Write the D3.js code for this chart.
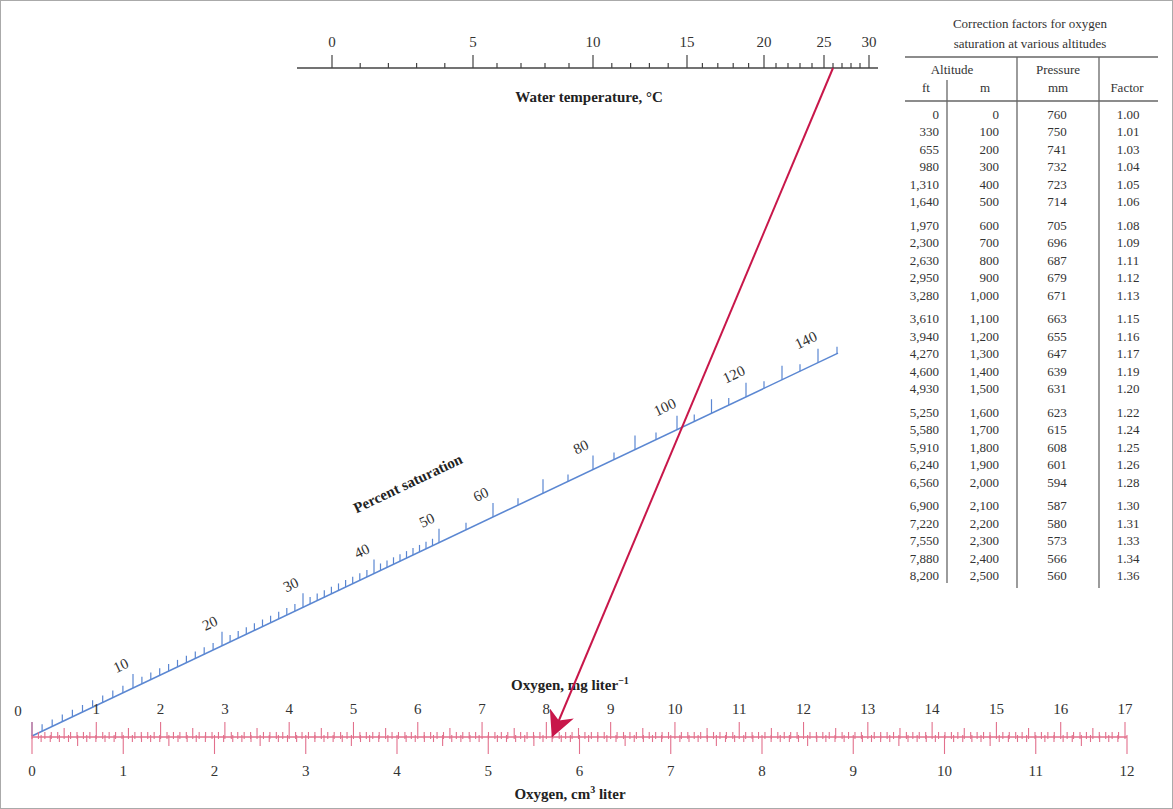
<!DOCTYPE html>
<html>
<head>
<meta charset="utf-8">
<script src="https://cdn.jsdelivr.net/npm/d3@7"></script>
<style>
  body { margin: 0; background: #fff; }
  text { font-family: "Liberation Serif", "DejaVu Serif", serif; fill: #333; }
</style>
</head>
<body>
<div id="chart"></div>
<script>
// temperature scale (non-linear), label values
var tempLabels = [0, 5, 10, 15, 20, 25, 30];
// percent saturation scale, label values
var satLabels = [0, 10, 20, 30, 40, 50, 60, 80, 100, 120, 140];
var mgLabels = d3.range(0, 18);
var cmLabels = d3.range(0, 13);
// example reading: temperature -> saturation -> oxygen
var example = { temp: 26, mg: 8.1 };

// table
var tableFt = ["0","330","655","980","1,310","1,640","1,970","2,300","2,630","2,950","3,280","3,610","3,940","4,270","4,600","4,930","5,250","5,580","5,910","6,240","6,560","6,900","7,220","7,550","7,880","8,200"];
var tableM = ["0","100","200","300","400","500","600","700","800","900","1,000","1,100","1,200","1,300","1,400","1,500","1,600","1,700","1,800","1,900","2,000","2,100","2,200","2,300","2,400","2,500"];
var tableMm = [760,750,741,732,723,714,705,696,687,679,671,663,655,647,639,631,623,615,608,601,594,587,580,573,566,560];
var tableFactor = ["1.00","1.01","1.03","1.04","1.05","1.06","1.08","1.09","1.11","1.12","1.13","1.15","1.16","1.17","1.19","1.20","1.22","1.24","1.25","1.26","1.28","1.30","1.31","1.33","1.34","1.36"];

var width = 1173, height = 809;
var svg = d3.select("#chart").append("svg")
  .attr("width", width).attr("height", height);

svg.append("rect").attr("x", 0.5).attr("y", 0.5)
  .attr("width", width - 1).attr("height", height - 1)
  .attr("fill", "none").attr("stroke", "#aaa");

var grey = "#444", blue = "#5b87d2", pink = "#e2708c", red = "#c8174a";

// ---- temperature axis ----
var tY = 68;
var tx = d3.scaleLinear().domain(tempLabels)
  .range([332, 473, 593, 687, 764, 824, 869]);
var gT = svg.append("g");
gT.append("line").attr("x1", 297).attr("x2", 878).attr("y1", tY).attr("y2", tY)
  .attr("stroke", grey).attr("stroke-width", 1.3);
gT.selectAll(".tt").data(d3.range(0, 31)).enter().append("line")
  .attr("x1", tx).attr("x2", tx).attr("y1", tY)
  .attr("y2", function(d) { return d % 5 === 0 ? tY - 13 : tY - 5; })
  .attr("stroke", grey).attr("stroke-width", 1.2);
gT.selectAll(".tl").data(tempLabels).enter().append("text")
  .attr("x", tx).attr("y", 47).attr("text-anchor", "middle")
  .style("font-size", "15px").text(function(d) { return d; });
gT.append("text").attr("x", 589).attr("y", 102).attr("text-anchor", "middle")
  .style("font-size", "15px").style("font-weight", "bold").style("fill", "#222")
  .text("Water temperature, °C");

// ---- percent saturation axis ----
var x0 = 32, y0 = 736, slope = -0.475;
var sx = d3.scaleLinear().domain([0, 10, 20, 30, 40, 50, 60, 80, 100, 120, 140, 145])
  .range([32, 133, 222, 303, 374, 439, 493, 593, 677, 746, 818, 837]);
function sy(v) { return y0 + slope * (sx(v) - x0); }
var ang = Math.atan(slope) * 180 / Math.PI;
var gS = svg.append("g");
gS.append("line").attr("x1", sx(0)).attr("y1", sy(0)).attr("x2", 838).attr("y2", y0 + slope * (838 - x0))
  .attr("stroke", blue).attr("stroke-width", 1.5);
var satTicks = d3.range(0, 50).concat(d3.range(50, 146, 5));
gS.selectAll(".st").data(satTicks).enter().append("line")
  .attr("x1", sx).attr("x2", sx)
  .attr("y1", sy)
  .attr("y2", function(d) { return sy(d) - (d % 10 === 0 ? 14 : 7); })
  .attr("stroke", blue).attr("stroke-width", 1.2);
gS.selectAll(".sl").data(satLabels).enter().append("text")
  .attr("transform", function(d) {
    if (d === 0) return "translate(18,716)";
    return "translate(" + (sx(d) - 10) + "," + (sy(d) - 18) + ") rotate(" + ang + ")";
  })
  .attr("text-anchor", "middle").style("font-size", "15px")
  .text(function(d) { return d; });
gS.append("text").attr("transform", "translate(410,488) rotate(" + ang + ")")
  .attr("text-anchor", "middle").style("font-size", "15px").style("font-weight", "bold")
  .style("fill", "#222").text("Percent saturation");

// ---- oxygen axis ----
var oY = 737;
var mx = d3.scaleLinear().domain([0, 17]).range([32, 1125]);
var cx = d3.scaleLinear().domain([0, 12]).range([32, 1127]);
var gO = svg.append("g");
gO.append("line").attr("x1", 32).attr("x2", 1127).attr("y1", oY).attr("y2", oY)
  .attr("stroke", pink).attr("stroke-width", 1.5);
var mgTicks = d3.range(0, 170).map(function(i) { return i / 10; }).concat([17]);
gO.selectAll(".mt").data(mgTicks).enter().append("line")
  .attr("x1", mx).attr("x2", mx).attr("y1", oY + 2)
  .attr("y2", function(d, i) { var k = Math.round(d * 10); return k % 10 === 0 ? oY - 15 : (k % 5 === 0 ? oY - 9 : oY - 5); })
  .attr("stroke", pink).attr("stroke-width", 1.1);
var cmTicks = d3.range(0, 120).map(function(i) { return i / 10; }).concat([12]);
gO.selectAll(".ct").data(cmTicks).enter().append("line")
  .attr("x1", cx).attr("x2", cx).attr("y1", oY - 2)
  .attr("y2", function(d) { var k = Math.round(d * 10); return k % 10 === 0 ? oY + 17 : (k % 5 === 0 ? oY + 9 : oY + 5); })
  .attr("stroke", pink).attr("stroke-width", 1.1);
gO.selectAll(".ml").data(mgLabels.slice(1)).enter().append("text")
  .attr("x", mx).attr("y", 714).attr("text-anchor", "middle")
  .style("font-size", "15px").text(function(d) { return d; });
gO.selectAll(".cl").data(cmLabels).enter().append("text")
  .attr("x", cx).attr("y", 776).attr("text-anchor", "middle")
  .style("font-size", "15px").text(function(d) { return d; });
var t1 = gO.append("text").attr("x", 570).attr("y", 690).attr("text-anchor", "middle")
  .style("font-size", "15px").style("font-weight", "bold").style("fill", "#222");
t1.append("tspan").text("Oxygen, mg liter");
t1.append("tspan").attr("dy", -6).style("font-size", "10px").text("−1");
var t2 = gO.append("text").attr("x", 570).attr("y", 799).attr("text-anchor", "middle")
  .style("font-size", "15px").style("font-weight", "bold").style("fill", "#222");
t2.append("tspan").text("Oxygen, cm");
t2.append("tspan").attr("dy", -6).style("font-size", "10px").text("3");
t2.append("tspan").attr("dy", 6).text(" liter");

// ---- example arrow ----
svg.append("defs").append("marker").attr("id", "arr")
  .attr("viewBox", "0 0 10 10").attr("refX", 9).attr("refY", 5)
  .attr("markerWidth", 9).attr("markerHeight", 9).attr("markerUnits", "userSpaceOnUse")
  .attr("orient", "auto")
  .append("path").attr("d", "M0,0 L10,5 L0,10 L3,5 Z").attr("fill", red);
svg.select("marker").attr("markerWidth", 26).attr("markerHeight", 26);
svg.append("line").attr("x1", tx(example.temp)).attr("y1", tY)
  .attr("x2", mx(example.mg)).attr("y2", oY - 2)
  .attr("stroke", red).attr("stroke-width", 2).attr("marker-end", "url(#arr)");

// ---- table ----
var gTab = svg.append("g").style("font-size", "13px");
gTab.append("text").attr("x", 1030).attr("y", 28).attr("text-anchor", "middle").text("Correction factors for oxygen");
gTab.append("text").attr("x", 1030).attr("y", 48).attr("text-anchor", "middle").text("saturation at various altitudes");
gTab.append("line").attr("x1", 905).attr("x2", 1158).attr("y1", 57).attr("y2", 57).attr("stroke", "#666").attr("stroke-width", 1.3);
gTab.append("line").attr("x1", 905).attr("x2", 1158).attr("y1", 101).attr("y2", 101).attr("stroke", "#666").attr("stroke-width", 1.3);
gTab.append("line").attr("x1", 947).attr("x2", 947).attr("y1", 80).attr("y2", 583).attr("stroke", "#666").attr("stroke-width", 1.3);
gTab.append("line").attr("x1", 1017).attr("x2", 1017).attr("y1", 57).attr("y2", 588).attr("stroke", "#666").attr("stroke-width", 1.3);
gTab.append("line").attr("x1", 1099).attr("x2", 1099).attr("y1", 57).attr("y2", 588).attr("stroke", "#666").attr("stroke-width", 1.3);
gTab.append("text").attr("x", 952).attr("y", 74).attr("text-anchor", "middle").text("Altitude");
gTab.append("text").attr("x", 1058).attr("y", 74).attr("text-anchor", "middle").text("Pressure");
gTab.append("text").attr("x", 926).attr("y", 92).attr("text-anchor", "middle").text("ft");
gTab.append("text").attr("x", 985).attr("y", 92).attr("text-anchor", "middle").text("m");
gTab.append("text").attr("x", 1058).attr("y", 92).attr("text-anchor", "middle").text("mm");
gTab.append("text").attr("x", 1127).attr("y", 92).attr("text-anchor", "middle").text("Factor");
function rowY(i) { var g = i < 6 ? 0 : Math.floor((i - 6) / 5) + 1; return 119 + i * 17.45 + g * 6.2; }
var rows = gTab.selectAll(".row").data(tableFt).enter().append("g")
  .attr("transform", function(d, i) { return "translate(0," + rowY(i) + ")"; });
rows.append("text").attr("x", 939).attr("text-anchor", "end").text(function(d) { return d; });
rows.append("text").attr("x", 999).attr("text-anchor", "end").text(function(d, i) { return tableM[i]; });
rows.append("text").attr("x", 1057).attr("text-anchor", "middle").text(function(d, i) { return tableMm[i]; });
rows.append("text").attr("x", 1128).attr("text-anchor", "middle").text(function(d, i) { return tableFactor[i]; });
</script>
</body>
</html>
